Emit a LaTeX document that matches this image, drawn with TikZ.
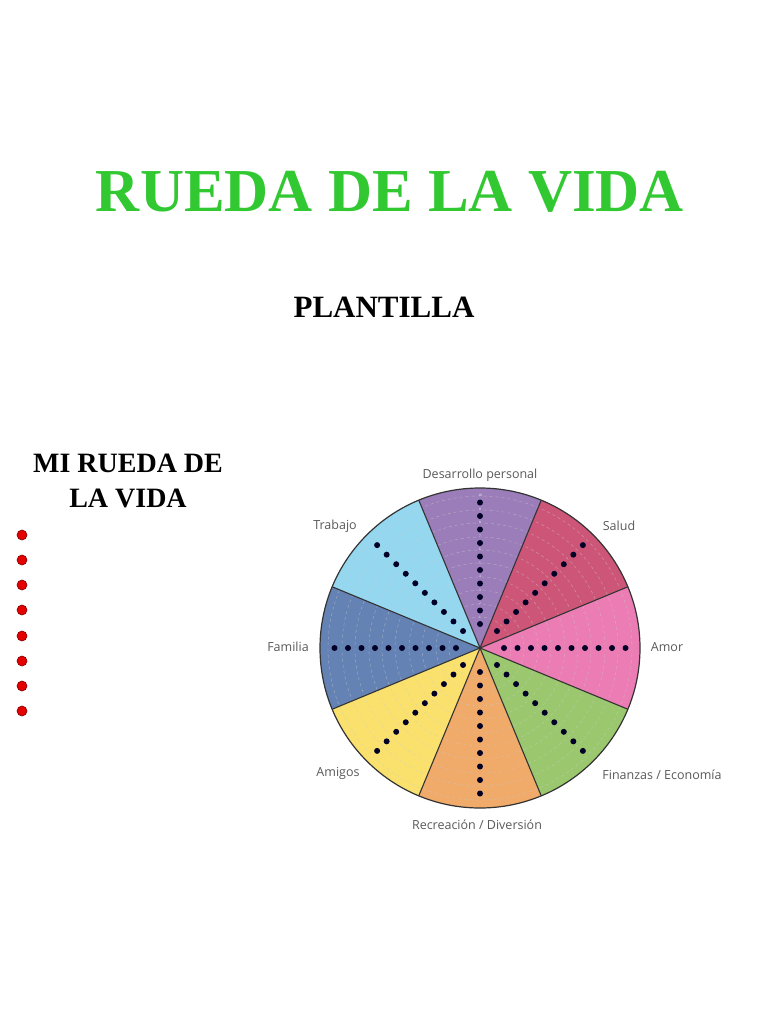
\documentclass[tikz,border=0pt]{standalone}
\usepackage{fontspec}
\usetikzlibrary{calc}
\setmainfont{Liberation Serif}
\newfontfamily\lblfont{Open Sans}
\begin{document}
\begin{tikzpicture}[x={(1pt,0)},y={(0,-1pt)},
  lbl/.style={font=\lblfont\fontsize{12.5}{14}\selectfont,text=black!65},
  reddot/.style={circle,fill=red!90!black,draw=red!50!black,line width=0.6pt,minimum size=10pt,inner sep=0pt},
  wdot/.style={circle,fill=black!75!blue!60!black,inner sep=0pt,minimum size=6pt}]
\useasboundingbox (0,0) rectangle (768,1024);
\definecolor{cP}{RGB}{155,125,185}
\definecolor{cS}{RGB}{205,85,120}
\definecolor{cA}{RGB}{235,125,180}
\definecolor{cF}{RGB}{155,200,110}
\definecolor{cR}{RGB}{240,170,105}
\definecolor{cY}{RGB}{250,225,110}
\definecolor{cB}{RGB}{100,130,180}
\definecolor{cT}{RGB}{150,215,240}
\definecolor{titlegreen}{RGB}{50,200,50}
\node (title) at (390,192) {\fontsize{61}{64}\selectfont\bfseries\color{titlegreen}RUEDA DE LA VIDA};
\node (sub) at (384,307) {\fontsize{31}{34}\selectfont\bfseries PLANTILLA};
\node (mi) at (128,481) [align=center,font=\fontsize{28}{35}\selectfont\bfseries] {MI RUEDA DE\\LA VIDA};
\foreach \i/\yy in {1/535,2/560,3/585,4/610,5/636,6/661,7/686,8/711}
  \node[reddot] (rd\i) at (22,\yy) {};
\coordinate (c) at (480,648);
\foreach \col [count=\k from 0] in {cA,cS,cP,cT,cB,cY,cR,cF}{
  \pgfmathsetmacro\a{-(\k*45-22.5)}
  \pgfmathsetmacro\b{-(\k*45+22.5)}
  \fill[\col] (c) -- ++(\a:160) arc[start angle=\a,end angle=\b,radius=160] -- cycle;
}
\foreach \r in {31,44,58,71,85,98,111,125,138,152}
  \draw[white!80!black,opacity=0.6,dashed,line width=0.4pt] (c) circle[radius=\r];
\foreach \k in {0,...,7}{
  \pgfmathsetmacro\a{-(\k*45+22.5)}
  \draw[black!80,line width=1.1pt] (c) -- ++(\a:160);
}
\draw[black!80,line width=1.2pt] (c) circle[radius=160];
\foreach \k in {0,...,7}{
  \pgfmathsetmacro\a{-(\k*45)}
  \foreach \n in {0,...,9}{
    \pgfmathsetmacro\rr{24+13.5*\n}
    \node[wdot] at ($(c)+(\a:\rr)$) {};
  }
}
\foreach \n in {1,...,10}{
  \pgfmathsetmacro\rr{24+13.5*(\n-1)+6.7}
  \node[text=white,font=\fontsize{3.5}{4}\selectfont,inner sep=0pt] at ($(c)+(-90:\rr)$) {\n};
}
\node[lbl] (l1) at (480,475) {Desarrollo personal};
\node[lbl] (l2) at (619,526) {Salud};
\node[lbl] (l3) at (667,647) {Amor};
\node[lbl] (l4) at (662,775) {Finanzas / Economía};
\node[lbl] (l5) at (477,825) {Recreación / Diversión};
\node[lbl] (l6) at (338,773) {Amigos};
\node[lbl] (l7) at (288,647) {Familia};
\node[lbl] (l8) at (335,526) {Trabajo};
\end{tikzpicture}
\end{document}
